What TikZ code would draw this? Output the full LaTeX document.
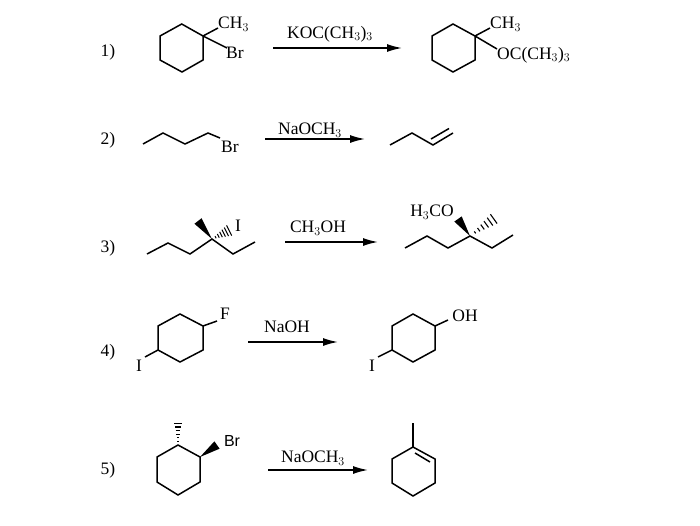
\documentclass[tikz,border=0pt]{standalone}
\usepackage{fontspec}
\setmainfont{Liberation Serif}
\newfontfamily\brsans{Liberation Sans}
\usetikzlibrary{calc,arrows.meta}
\newcommand\myhash[2]{%
  \foreach \t in {0.2,0.35,0.5,0.65,0.8,0.95}{%
    \path ($(#1)!\t!(#2)$) coordinate (hp);
    \draw[line width=1.1pt] ($(hp)!{\t*6pt}!90:(#2)$) -- ($(hp)!{\t*6pt}!-90:(#2)$);}}
\newcommand\mywedge[2]{\fill (#1) -- ($(#2)!4.5pt!90:(#1)$) -- ($(#2)!4.5pt!-90:(#1)$) -- cycle;}
\tikzset{bond/.style={line width=1.5pt,line join=miter},
  rxn/.style={line width=1.5pt,-{Latex[length=15pt,width=8pt]}},
  lab/.style={font=\fontsize{17.5}{17.5}\selectfont,inner sep=1pt},
  num/.style={font=\fontsize{17.5}{17.5}\selectfont}}
\begin{document}
\begin{tikzpicture}[x=1pt,y=-1pt]
\useasboundingbox (0,0) rectangle (700,525);
% labels
\node[num] at (108,52) {1)};
\node[num] at (108,140) {2)};
\node[num] at (108,248) {3)};
\node[num] at (108,352) {4)};
\node[num] at (108,470) {5)};
% ---- 1
\draw[bond] (181.7,24)--(203,36)--(203,60)--(182,72)--(160,60)--(160,36)--cycle;
\draw[bond] (203,36)--(218,28) (203,36)--(227,48);
\node[lab,anchor=west] at (217,24) {CH$_3$};
\node[lab,anchor=west] at (225,53) {Br};
\draw[rxn] (273,48)--(402,48);
\node[lab] at (330,34) {KOC(CH$_3$)$_3$};
\draw[bond] (453,24)--(475,36)--(475,60)--(453,72)--(432,60)--(432,36)--cycle;
\draw[bond] (475,36)--(490,28) (475,36)--(497,49);
\node[lab,anchor=west] at (489,24) {CH$_3$};
\node[lab,anchor=west] at (496,55) {OC(CH$_3$)$_3$};
% ---- 2
\draw[bond] (143,144)--(163,133)--(185,144)--(208,133)--(220,138);
\node[lab,anchor=west] at (220,147) {Br};
\draw[rxn] (265,139)--(365,139);
\node[lab] at (310,130) {NaOCH$_3$};
\draw[bond] (390,145)--(412,133)--(433,145)--(453,133);
\draw[bond] (431,139)--(449,128.5);
% ---- 3
\draw[bond] (147,254)--(168,243)--(190,254)--(212,239)--(233,254)--(255,242);
\mywedge{212,239}{198,221}
\myhash{212,239}{230,230}
\node[lab] at (238,226) {I};
\draw[rxn] (285,242)--(378,242);
\node[lab] at (318,228) {CH$_3$OH};
\draw[bond] (405,248)--(427,236)--(448,248)--(470,236)--(492,248)--(513,235);
\mywedge{470,236}{458,219}
\myhash{470,236}{495,218}
\node[lab] at (432,212) {H$_3$CO};
% ---- 4
\draw[bond] (180,314)--(203,326)--(203,350)--(180,362)--(158,350)--(158,326)--cycle;
\draw[bond] (203,326)--(217,321) (158,350)--(145,357);
\node[lab] at (225,314) {F};
\node[lab] at (139,366) {I};
\draw[rxn] (248,342)--(338,342);
\node[lab] at (287,327) {NaOH};
\draw[bond] (413,314)--(435,326)--(435,350)--(413,362)--(392,350)--(392,326)--cycle;
\draw[bond] (435,326)--(448,320) (392,350)--(378,357);
\node[lab] at (465,316) {OH};
\node[lab] at (372,366) {I};
% ---- 5
\draw[bond] (178,445)--(200,457)--(200,482)--(178,495)--(157,482)--(157,457)--cycle;
\foreach \t in {0.15,0.3,0.45,0.6,0.75,0.9}{
  \path ($(178,445)!\t!(178,421)$) coordinate (hp);
  \draw[line width=1.1pt] ($(hp)+({-\t*4},0)$) -- ($(hp)+({\t*4},0)$);}
\mywedge{200,457}{217,445}
\node[lab,font=\brsans\fontsize{16}{16}\selectfont] at (232,441) {Br};
\draw[rxn] (268,470)--(368,470);
\node[lab] at (313,458) {NaOCH$_3$};
\draw[bond] (413,447)--(435,459)--(435,483)--(413,496)--(392,483)--(392,459)--cycle;
\draw[bond] (413,447)--(413,423);
\draw[bond] (415,453)--(430,462);
\end{tikzpicture}
\end{document}
